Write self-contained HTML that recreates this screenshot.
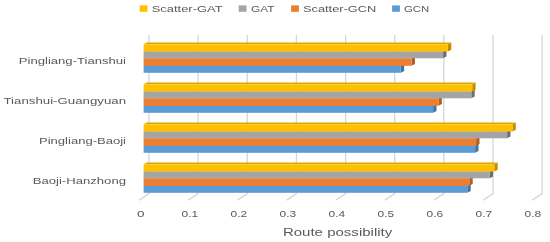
<!DOCTYPE html>
<html><head><meta charset="utf-8"><title>Route possibility</title>
<style>
html,body{margin:0;padding:0;background:#fff}
body{width:550px;height:242px;overflow:hidden}
svg{display:block;filter:blur(0.3px)}
text{font-family:"Liberation Sans","DejaVu Sans",sans-serif;fill:#595959}
</style></head><body>
<svg width="550" height="242" viewBox="0 0 550 242">
<rect width="550" height="242" fill="#fff"/>
<path d="M149.0 35V193.6L139.0 200.2" fill="none" stroke="#D4D4D4" stroke-width="1.25"/>
<path d="M198.1 35V193.6L188.1 200.2" fill="none" stroke="#D4D4D4" stroke-width="1.25"/>
<path d="M247.3 35V193.6L237.3 200.2" fill="none" stroke="#D4D4D4" stroke-width="1.25"/>
<path d="M296.4 35V193.6L286.4 200.2" fill="none" stroke="#D4D4D4" stroke-width="1.25"/>
<path d="M345.6 35V193.6L335.6 200.2" fill="none" stroke="#D4D4D4" stroke-width="1.25"/>
<path d="M394.7 35V193.6L384.7 200.2" fill="none" stroke="#D4D4D4" stroke-width="1.25"/>
<path d="M443.8 35V193.6L433.8 200.2" fill="none" stroke="#D4D4D4" stroke-width="1.25"/>
<path d="M493.0 35V193.6L483.0 200.2" fill="none" stroke="#D4D4D4" stroke-width="1.25"/>
<path d="M542.1 35V193.6L532.1 200.2" fill="none" stroke="#D4D4D4" stroke-width="1.25"/>
<path d="M400.8 65.8L404.2 64.1V71.1L400.8 72.8Z" fill="#4474A0"/>
<path d="M143.6 65.8L147.0 64.1H404.2L400.8 65.8Z" fill="#4D84B5"/>
<rect x="143.6" y="65.8" width="257.2" height="7.0" fill="#5B9BD5"/>
<path d="M411.6 58.3L415.0 56.6V64.1L411.6 65.8Z" fill="#B25E25"/>
<path d="M143.6 58.3L147.0 56.6H415.0L411.6 58.3Z" fill="#C96A2A"/>
<rect x="143.6" y="58.3" width="268.0" height="7.5" fill="#ED7D31"/>
<path d="M443.1 51.5L446.5 49.8V56.6L443.1 58.3Z" fill="#6E6E6E"/>
<path d="M143.6 51.5L147.0 49.8H446.5L443.1 51.5Z" fill="#8C8C8C"/>
<rect x="143.6" y="51.5" width="299.5" height="6.8" fill="#A5A5A5"/>
<path d="M447.9 44.3L451.3 42.6V49.8L447.9 51.5Z" fill="#C09000"/>
<path d="M143.6 44.3L147.0 42.6H451.3L447.9 44.3Z" fill="#DDA800"/>
<rect x="143.6" y="44.3" width="304.3" height="7.2" fill="#FFC000"/>
<path d="M433.1 105.8L436.5 104.1V111.1L433.1 112.8Z" fill="#4474A0"/>
<path d="M143.6 105.8L147.0 104.1H436.5L433.1 105.8Z" fill="#4D84B5"/>
<rect x="143.6" y="105.8" width="289.5" height="7.0" fill="#5B9BD5"/>
<path d="M438.5 98.3L441.9 96.6V104.1L438.5 105.8Z" fill="#B25E25"/>
<path d="M143.6 98.3L147.0 96.6H441.9L438.5 98.3Z" fill="#C96A2A"/>
<rect x="143.6" y="98.3" width="294.9" height="7.5" fill="#ED7D31"/>
<path d="M471.3 91.5L474.7 89.8V96.6L471.3 98.3Z" fill="#6E6E6E"/>
<path d="M143.6 91.5L147.0 89.8H474.7L471.3 91.5Z" fill="#8C8C8C"/>
<rect x="143.6" y="91.5" width="327.7" height="6.8" fill="#A5A5A5"/>
<path d="M472.2 84.3L475.6 82.6V89.8L472.2 91.5Z" fill="#C09000"/>
<path d="M143.6 84.3L147.0 82.6H475.6L472.2 84.3Z" fill="#DDA800"/>
<rect x="143.6" y="84.3" width="328.6" height="7.2" fill="#FFC000"/>
<path d="M475.1 145.8L478.5 144.1V151.1L475.1 152.8Z" fill="#4474A0"/>
<path d="M143.6 145.8L147.0 144.1H478.5L475.1 145.8Z" fill="#4D84B5"/>
<rect x="143.6" y="145.8" width="331.5" height="7.0" fill="#5B9BD5"/>
<path d="M476.1 138.3L479.5 136.6V144.1L476.1 145.8Z" fill="#B25E25"/>
<path d="M143.6 138.3L147.0 136.6H479.5L476.1 138.3Z" fill="#C96A2A"/>
<rect x="143.6" y="138.3" width="332.5" height="7.5" fill="#ED7D31"/>
<path d="M507.1 131.5L510.5 129.8V136.6L507.1 138.3Z" fill="#6E6E6E"/>
<path d="M143.6 131.5L147.0 129.8H510.5L507.1 131.5Z" fill="#8C8C8C"/>
<rect x="143.6" y="131.5" width="363.5" height="6.8" fill="#A5A5A5"/>
<path d="M512.4 124.3L515.8 122.6V129.8L512.4 131.5Z" fill="#C09000"/>
<path d="M143.6 124.3L147.0 122.6H515.8L512.4 124.3Z" fill="#DDA800"/>
<rect x="143.6" y="124.3" width="368.8" height="7.2" fill="#FFC000"/>
<path d="M467.3 185.8L470.7 184.1V191.1L467.3 192.8Z" fill="#4474A0"/>
<path d="M143.6 185.8L147.0 184.1H470.7L467.3 185.8Z" fill="#4D84B5"/>
<rect x="143.6" y="185.8" width="323.7" height="7.0" fill="#5B9BD5"/>
<path d="M469.3 178.3L472.7 176.6V184.1L469.3 185.8Z" fill="#B25E25"/>
<path d="M143.6 178.3L147.0 176.6H472.7L469.3 178.3Z" fill="#C96A2A"/>
<rect x="143.6" y="178.3" width="325.7" height="7.5" fill="#ED7D31"/>
<path d="M489.7 171.5L493.1 169.8V176.6L489.7 178.3Z" fill="#6E6E6E"/>
<path d="M143.6 171.5L147.0 169.8H493.1L489.7 171.5Z" fill="#8C8C8C"/>
<rect x="143.6" y="171.5" width="346.1" height="6.8" fill="#A5A5A5"/>
<path d="M494.3 164.3L497.7 162.6V169.8L494.3 171.5Z" fill="#C09000"/>
<path d="M143.6 164.3L147.0 162.6H497.7L494.3 164.3Z" fill="#DDA800"/>
<rect x="143.6" y="164.3" width="350.7" height="7.2" fill="#FFC000"/>
<rect x="139.7" y="5.4" width="7.8" height="6.4" fill="#FFC000"/>
<text x="151.7" y="12" font-size="9.3" textLength="70.9" lengthAdjust="spacingAndGlyphs">Scatter-GAT</text>
<rect x="238.7" y="5.4" width="7.8" height="6.4" fill="#A5A5A5"/>
<text x="251" y="12" font-size="9.3" textLength="23.4" lengthAdjust="spacingAndGlyphs">GAT</text>
<rect x="291.1" y="5.4" width="7.8" height="6.4" fill="#ED7D31"/>
<text x="303" y="12" font-size="9.3" textLength="73.3" lengthAdjust="spacingAndGlyphs">Scatter-GCN</text>
<rect x="392.1" y="5.4" width="7.8" height="6.4" fill="#5B9BD5"/>
<text x="404" y="12" font-size="9.3" textLength="25.2" lengthAdjust="spacingAndGlyphs">GCN</text>
<text x="18.8" y="63.8" font-size="9.3" textLength="107.2" lengthAdjust="spacingAndGlyphs">Pingliang-Tianshui</text>
<text x="3.5" y="104.2" font-size="9.3" textLength="122.5" lengthAdjust="spacingAndGlyphs">Tianshui-Guangyuan</text>
<text x="39" y="143.8" font-size="9.3" textLength="87.0" lengthAdjust="spacingAndGlyphs">Pingliang-Baoji</text>
<text x="32.7" y="183.7" font-size="9.3" textLength="93.3" lengthAdjust="spacingAndGlyphs">Baoji-Hanzhong</text>
<text x="137.1" y="217.2" font-size="9" textLength="7.5" lengthAdjust="spacingAndGlyphs">0</text>
<text x="181.5" y="217.2" font-size="9" textLength="16.6" lengthAdjust="spacingAndGlyphs">0.1</text>
<text x="230.5" y="217.2" font-size="9" textLength="16.6" lengthAdjust="spacingAndGlyphs">0.2</text>
<text x="279.5" y="217.2" font-size="9" textLength="16.6" lengthAdjust="spacingAndGlyphs">0.3</text>
<text x="328.5" y="217.2" font-size="9" textLength="16.6" lengthAdjust="spacingAndGlyphs">0.4</text>
<text x="377.5" y="217.2" font-size="9" textLength="16.6" lengthAdjust="spacingAndGlyphs">0.5</text>
<text x="426.5" y="217.2" font-size="9" textLength="16.6" lengthAdjust="spacingAndGlyphs">0.6</text>
<text x="475.5" y="217.2" font-size="9" textLength="16.6" lengthAdjust="spacingAndGlyphs">0.7</text>
<text x="524.5" y="217.2" font-size="9" textLength="16.6" lengthAdjust="spacingAndGlyphs">0.8</text>
<text x="282.9" y="236.2" font-size="10.8" textLength="109.4" lengthAdjust="spacingAndGlyphs">Route possibility</text>
</svg>
</body></html>
